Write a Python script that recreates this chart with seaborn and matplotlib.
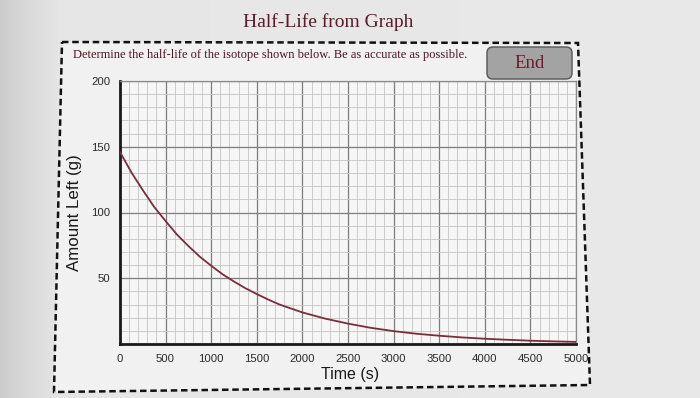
import numpy as np
import pandas as pd
import seaborn as sns
import matplotlib
matplotlib.use("Agg")
import matplotlib.pyplot as plt
from matplotlib.patches import FancyBboxPatch, Polygon
from matplotlib.ticker import MultipleLocator

# ---- data ----
time_s = [0, 125, 250, 375, 500, 625, 750, 875, 1000, 1125, 1250, 1375,
          1500, 1625, 1750, 1875, 2000, 2250, 2500, 2750, 3000, 3250,
          3500, 3750, 4000, 4250, 4500, 4750, 5000]
amount_g = [146, 130.5, 117, 104.2, 93.5, 83.2, 74.5, 66.4, 59.5, 53.0,
            47.5, 42.4, 38, 33.8, 30, 27.0, 24, 19.3, 15.5, 12.3, 9.8, 7.8,
            6.3, 5.0, 4.0, 3.2, 2.5, 2.0, 1.6]
x_ticks = [0, 500, 1000, 1500, 2000, 2500, 3000, 3500, 4000, 4500, 5000]
y_ticks = [50, 100, 150, 200]

title_text = "Half-Life from Graph"
prompt_text = "Determine the half-life of the isotope shown below. Be as accurate as possible."
button_text = "End"
x_label = "Time (s)"
y_label = "Amount Left (g)"

df = pd.DataFrame({"time": time_s, "amount": amount_g})

sns.set_style("white")
plt.rcParams["font.family"] = ["Liberation Sans", "DejaVu Sans"]

W, H = 700, 398
fig = plt.figure(figsize=(W / 100, H / 100), dpi=100)
fig.patch.set_facecolor("#e8e8e8")

# background gradient (photo-like)
bg = fig.add_axes([0, 0, 1, 1], zorder=-10)
xs = np.arange(W)
shade = np.interp(xs, [0, 35, 60, 700], [0.80, 0.86, 0.90, 0.91])
img = np.tile(shade, (H, 1))
bg.imshow(img, cmap="gray", vmin=0, vmax=1, aspect="auto", extent=[0, W, H, 0])
bg.set_xlim(0, W)
bg.set_ylim(H, 0)
bg.axis("off")

inch = fig.dpi_scale_trans


def px(x, y):
    return (x / 100, (H - y) / 100)


# dashed box
box = Polygon([px(62, 42), px(578, 43), px(590, 385), px(54, 392)], closed=True,
              transform=inch, facecolor="#f1f1f1", edgecolor="#111111",
              linewidth=1.8, linestyle=(0, (2.6, 1.5)), zorder=-5)
fig.patches.append(box)

# title and prompt
fig.text(328 / W, 1 - 22 / H, title_text, ha="center", va="center",
         family=["Liberation Serif"], fontsize=14, color="#5c1a2c")
fig.text(73 / W, 1 - 55 / H, prompt_text, ha="left", va="center",
         family=["Liberation Serif"], fontsize=9.0, color="#4a1525")

# End button
bx0, by0 = px(487, 79)
btn = FancyBboxPatch((bx0, by0), 0.85, 0.32,
                     boxstyle="round,pad=0,rounding_size=0.06",
                     transform=inch, facecolor="#a3a3a3", edgecolor="#5e5e5e",
                     linewidth=1.1)
fig.patches.append(btn)
fig.text(529.5 / W, 1 - 63 / H, button_text, ha="center", va="center",
         family=["Liberation Serif"], fontsize=13.5, color="#6b1a2e")

# main axes
left, right = 120 / W, 576 / W
bottom, top = 1 - 344 / H, 1 - 81 / H
ax = fig.add_axes([left, bottom, right - left, top - bottom])
ax.set_facecolor("#f6f6f6")

sns.lineplot(data=df, x="time", y="amount", ax=ax, color="#7b2d3b",
             linewidth=1.3, zorder=5)

ax.set_xlim(0, 5000)
ax.set_ylim(0, 200)
ax.set_xticks(x_ticks)
ax.set_yticks(y_ticks)
ax.xaxis.set_minor_locator(MultipleLocator(100))
ax.yaxis.set_minor_locator(MultipleLocator(10))
ax.grid(which="major", color="#7d7d7d", linewidth=0.9)
ax.grid(which="minor", color="#c4c4c4", linewidth=0.6)
ax.set_axisbelow(True)

ax.tick_params(axis="both", which="major", direction="out", length=4,
               width=0.8, color="#555555", labelsize=8.2, labelcolor="#2a2a2a",
               pad=3)
ax.tick_params(axis="both", which="minor", length=0)

for s in ["left", "bottom"]:
    ax.spines[s].set_color("#1a1a1a")
    ax.spines[s].set_linewidth(2.0)
for s in ["top", "right"]:
    ax.spines[s].set_color("#8a8a8a")
    ax.spines[s].set_linewidth(0.9)

ax.set_xlabel("")
ax.set_ylabel("")
fig.text(350 / W, 1 - 374 / H, x_label, ha="center", va="center",
         fontsize=11.5, color="#1a1a1a")
fig.text(75 / W, 1 - 213 / H, y_label, ha="center", va="center",
         rotation=90, fontsize=12.2, color="#1a1a1a")

fig.savefig("out.png", dpi=100)
